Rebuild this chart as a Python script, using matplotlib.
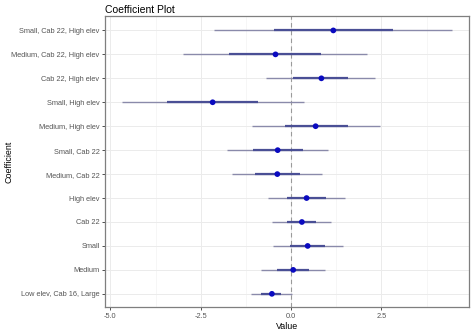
import matplotlib
matplotlib.use("Agg")
import matplotlib.pyplot as plt
from matplotlib.ticker import MultipleLocator

coefficients = ["Low elev, Cab 16, Large", "Medium", "Small", "Cab 22", "High elev",
                "Medium, Cab 22", "Small, Cab 22", "Medium, High elev", "Small, High elev",
                "Cab 22, High elev", "Medium, Cab 22, High elev", "Small, Cab 22, High elev"]
estimate = [-0.53, 0.06, 0.46, 0.30, 0.43, -0.38, -0.37, 0.68, -2.17, 0.84, -0.43, 1.17]
inner_lo = [-0.83, -0.39, -0.02, -0.12, -0.11, -1.01, -1.06, -0.18, -3.44, 0.06, -1.72, -0.48]
inner_hi = [-0.27, 0.51, 0.95, 0.70, 0.96, 0.24, 0.32, 1.57, -0.91, 1.57, 0.83, 2.81]
outer_lo = [-1.11, -0.83, -0.51, -0.53, -0.63, -1.63, -1.77, -1.08, -4.69, -0.69, -2.98, -2.14]
outer_hi = [0.03, 0.95, 1.43, 1.11, 1.50, 0.86, 1.02, 2.47, 0.35, 2.33, 2.10, 4.46]
x_ticks = [-5.0, -2.5, 0.0, 2.5]

plt.rcParams['font.family'] = ['Liberation Sans', 'DejaVu Sans']

fig = plt.figure(figsize=(4.74, 3.31), dpi=100)
ax = fig.add_axes([0.2215, 0.0725, 0.7675, 0.879])

ys = list(range(len(coefficients)))

ax.set_xlim(-5.15, 4.92)
ax.set_ylim(-0.55, 11.6)

ax.xaxis.set_minor_locator(MultipleLocator(1.25))
ax.set_xticks(x_ticks)
ax.set_xticklabels([f"{t:.1f}" for t in x_ticks])
ax.set_yticks(ys)
ax.set_yticklabels(coefficients)

ax.grid(True, which='major', color='#ebebeb', lw=0.7)
ax.grid(True, which='minor', axis='x', color='#f3f3f3', lw=0.5)
ax.set_axisbelow(True)

ax.axvline(0, color='#9a9a9a', lw=0.8, ls=(0, (4, 3)), zorder=1)

ax.hlines(ys, outer_lo, outer_hi, color='#8a8aaa', lw=1.0, zorder=2)
ax.hlines(ys, inner_lo, inner_hi, color='#4a4f95', lw=1.6, zorder=3)
ax.scatter(estimate, ys, s=17, color='#0a0ac0', zorder=4, edgecolors='none')

for s in ax.spines.values():
    s.set_color('#7f7f7f')
    s.set_linewidth(0.9)

ax.tick_params(axis='both', which='major', labelsize=5.3, colors='#333333',
               labelcolor='#555555', length=2.5, width=0.6, pad=1.5)
ax.tick_params(axis='x', which='minor', length=0)

ax.set_xlabel("Value", fontsize=6.4, labelpad=2)
ax.set_ylabel("Coefficient", fontsize=6.4)
ax.yaxis.set_label_coords(-0.252, 0.5)
ax.set_title("Coefficient Plot", fontsize=7.5, loc='left', pad=2.5)

fig.savefig("out.png", dpi=100)
